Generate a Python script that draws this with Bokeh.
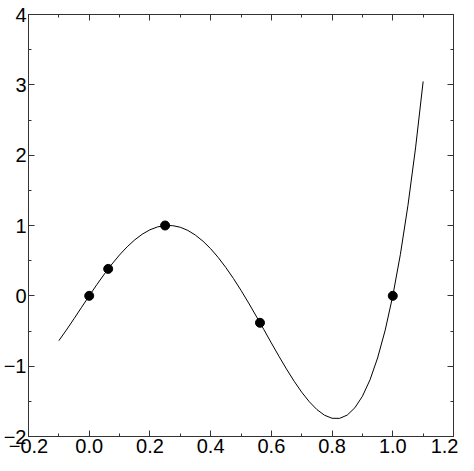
from bokeh.plotting import figure
from bokeh.models import LinearAxis, FixedTicker, Range1d
from bokeh.embed import file_html
from bokeh.resources import INLINE

# Curve samples
curve_x = [-0.100, -0.075, -0.050, -0.025, 0.000, 0.025, 0.050, 0.075, 0.100, 0.125,
           0.150, 0.175, 0.200, 0.225, 0.250, 0.275, 0.300, 0.325, 0.350, 0.375,
           0.400, 0.425, 0.450, 0.475, 0.500, 0.525, 0.550, 0.575, 0.600, 0.625,
           0.650, 0.675, 0.700, 0.725, 0.750, 0.775, 0.800, 0.825, 0.850, 0.875,
           0.900, 0.925, 0.950, 0.975, 1.000, 1.025, 1.050, 1.075, 1.100]
curve_y = [-0.637, -0.485, -0.325, -0.162, 0.000, 0.159, 0.310, 0.452, 0.582, 0.697,
           0.796, 0.877, 0.939, 0.980, 1.000, 0.998, 0.975, 0.930, 0.863, 0.776,
           0.670, 0.545, 0.403, 0.247, 0.078, -0.101, -0.288, -0.478, -0.670, -0.859,
           -1.042, -1.214, -1.370, -1.506, -1.617, -1.697, -1.741, -1.742, -1.695, -1.592,
           -1.428, -1.194, -0.883, -0.488, 0.000, 0.589, 1.287, 2.103, 3.048]

# Marked points
pts_x = [0.0, 0.0625, 0.25, 0.5625, 1.0]
pts_y = [0.0, 0.383, 1.0, -0.383, 0.0]

# Ticks
xtick_values = [-0.2, 0.0, 0.2, 0.4, 0.6, 0.8, 1.0, 1.2]
xtick_labels = ["\u22120.2", "0.0", "0.2", "0.4", "0.6", "0.8", "1.0", "1.2"]
xminor_values = [-0.1, 0.1, 0.3, 0.5, 0.7, 0.9, 1.1]
ytick_values = [-2, -1, 0, 1, 2, 3, 4]
ytick_labels = ["\u22122", "\u22121", "0", "1", "2", "3", "4"]
yminor_values = [-1.5, -0.5, 0.5, 1.5, 2.5, 3.5]

FONT = "Liberation Sans"
LINE = "#333333"

p = figure(width=458, height=455, x_range=Range1d(-0.2, 1.2), y_range=Range1d(-2, 4),
           output_backend="svg", toolbar_location=None,
           min_border_left=20, min_border_right=5, min_border_top=14, min_border_bottom=15)
p.xgrid.visible = False
p.ygrid.visible = False
p.outline_line_color = LINE
p.outline_line_width = 1
p.background_fill_color = "white"
p.border_fill_color = "white"


def style(ax, labels=True):
    ax.axis_line_color = LINE
    ax.major_tick_line_color = LINE
    ax.minor_tick_line_color = LINE
    ax.major_tick_in = 6
    ax.major_tick_out = 0
    ax.minor_tick_in = 3
    ax.minor_tick_out = 0
    if labels:
        ax.major_label_text_font = FONT
        ax.major_label_text_font_size = "20px"
        ax.major_label_text_color = "black"
        ax.major_label_standoff = 2
    else:
        ax.major_label_text_font_size = "1px"
        ax.major_label_text_color = None
        ax.major_label_text_alpha = 0
        ax.major_label_standoff = 0


xa = p.xaxis[0]
xa.ticker = FixedTicker(ticks=xtick_values, minor_ticks=xminor_values)
xa.major_label_overrides = dict(zip(xtick_values, xtick_labels))
style(xa)
ya = p.yaxis[0]
ya.ticker = FixedTicker(ticks=ytick_values, minor_ticks=yminor_values)
ya.major_label_overrides = dict(zip(ytick_values, ytick_labels))
style(ya)

top = LinearAxis(ticker=FixedTicker(ticks=xtick_values, minor_ticks=xminor_values))
style(top, labels=False)
p.add_layout(top, "above")
right = LinearAxis(ticker=FixedTicker(ticks=ytick_values, minor_ticks=yminor_values))
style(right, labels=False)
p.add_layout(right, "right")

p.line(curve_x, curve_y, line_color="black", line_width=1)
p.scatter(pts_x, pts_y, size=9, fill_color="black", line_color="black")

open("out.html", "w").write(file_html(p, INLINE))
